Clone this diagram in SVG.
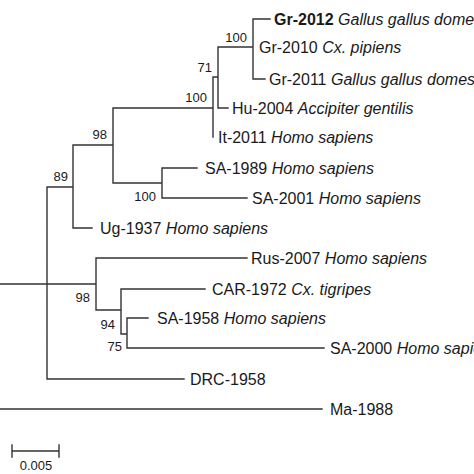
<svg xmlns="http://www.w3.org/2000/svg" width="474" height="474" viewBox="0 0 474 474">
<style>
.br{fill:none;stroke:#333;stroke-width:1.4;stroke-linecap:square}
.lb{font-family:"Liberation Sans",Arial,sans-serif;font-size:16px;fill:#1a1a1a}
.sp{font-style:italic}
.bs{font-family:"Liberation Sans",Arial,sans-serif;font-size:13px;fill:#1a1a1a;text-anchor:end}
</style>
<rect width="474" height="474" fill="#fff"/>
<g id="connectors">
<path class="br" d="M0,284H47M47,187V379M47,187H73M73,145V228M73,228H92M73,145H113M113,108V183M113,183H162M162,168V198M162,168H197M162,198H247M113,108H213M213,77V137M213,77H218M218,47V108M218,108H228M218,47H253M253,19V79M253,19H270M253,79H265M47,284H96M96,258V310M96,258H247M96,310H121M121,289V334M121,289H205M121,334H127M127,318V348M127,318H148M127,348H324M47,379H184M0,409H322"/>
</g>
<g id="scale">
<path class="br" d="M12,451H59M12,445V457M59,445V457"/>
<text x="36" y="470" class="bs" style="text-anchor:middle">0.005</text>
</g>
<g id="bootstrap">
<text class="bs" x="247" y="42">100</text>
<text class="bs" x="212" y="72">71</text>
<text class="bs" x="207" y="102">100</text>
<text class="bs" x="107" y="139">98</text>
<text class="bs" x="68" y="181">89</text>
<text class="bs" x="156" y="201">100</text>
<text class="bs" x="90" y="302">98</text>
<text class="bs" x="115" y="329">94</text>
<text class="bs" x="122" y="351">75</text>
</g>
<g id="gr2012"><text class="lb" x="274" y="25"><tspan font-weight="bold">Gr-2012</tspan> <tspan class="sp">Gallus gallus domesticus</tspan></text></g>
<g id="gr2010"><text class="lb" x="259" y="53">Gr-2010 <tspan class="sp">Cx. pipiens</tspan></text></g>
<g id="gr2011"><text class="lb" x="269" y="85">Gr-2011 <tspan class="sp">Gallus gallus domesticus</tspan></text></g>
<g id="hu2004"><text class="lb" x="232" y="114">Hu-2004 <tspan class="sp">Accipiter gentilis</tspan></text></g>
<g id="it2011"><text class="lb" x="218" y="143">It-2011 <tspan class="sp">Homo sapiens</tspan></text></g>
<g id="sa1989"><text class="lb" x="205" y="174">SA-1989 <tspan class="sp">Homo sapiens</tspan></text></g>
<g id="sa2001"><text class="lb" x="252" y="204">SA-2001 <tspan class="sp">Homo sapiens</tspan></text></g>
<g id="ug1937"><text class="lb" x="100" y="234">Ug-1937 <tspan class="sp">Homo sapiens</tspan></text></g>
<g id="rus2007"><text class="lb" x="251" y="264">Rus-2007 <tspan class="sp">Homo sapiens</tspan></text></g>
<g id="car1972"><text class="lb" x="212" y="295">CAR-1972 <tspan class="sp">Cx. tigripes</tspan></text></g>
<g id="sa1958"><text class="lb" x="157" y="324">SA-1958 <tspan class="sp">Homo sapiens</tspan></text></g>
<g id="sa2000"><text class="lb" x="330" y="354">SA-2000 <tspan class="sp">Homo sapiens</tspan></text></g>
<g id="drc1958"><text class="lb" x="190" y="385">DRC-1958</text></g>
<g id="ma1988"><text class="lb" x="330" y="415">Ma-1988</text></g>
</svg>
